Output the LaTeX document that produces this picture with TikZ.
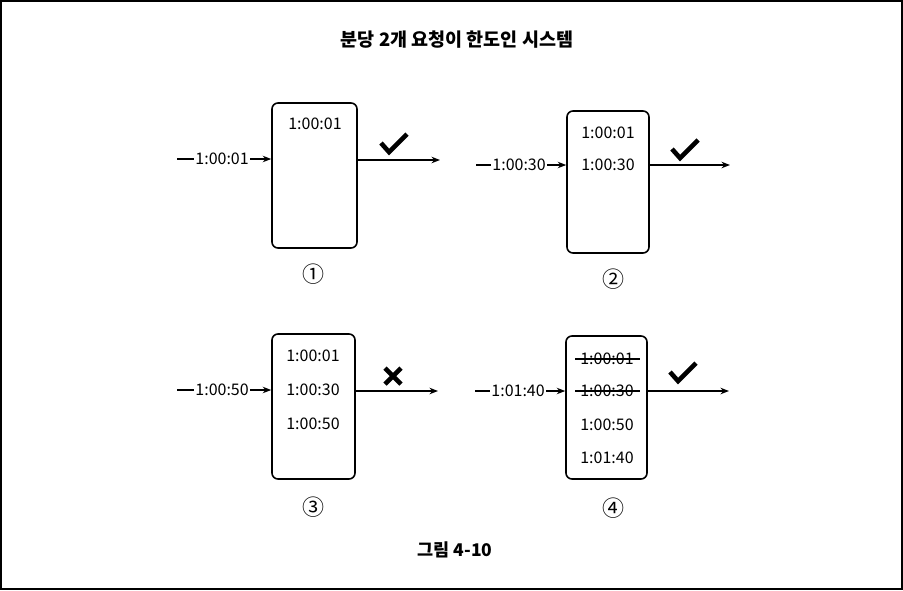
\documentclass[tikz,border=0pt]{standalone}
\usepackage{fontspec}
\setmainfont{Noto Sans CJK KR}
\usetikzlibrary{arrows.meta}
\begin{document}
\begin{tikzpicture}[x=1pt,y=-1pt,
  qbox/.style={draw, line width=1.6pt, rounded corners=6pt, inner sep=0pt},
  tlabel/.style={font=\fontsize{16}{19}\selectfont, inner sep=0pt},
  inlab/.style={font=\fontsize{16}{19}\selectfont, fill=white, inner xsep=1.5pt, inner ysep=1pt},
  flow/.style={line width=1.3pt, -{Stealth[length=8.5pt,width=6.5pt]}},
  okmark/.style={line width=4.6pt, line join=miter, line cap=butt},
  nomark/.style={line width=4.6pt, line cap=butt},
  numlab/.style={font=\fontsize{22}{24}\selectfont, inner sep=0pt},
  strike/.style={line width=1.8pt}
]
\useasboundingbox (0,0) rectangle (903,590);
\draw[line width=2.5pt] (1,1) rectangle (902,589);

% title and caption
\node[font=\bfseries\fontsize{18.5}{22}\selectfont] (title) at (457,40) {분당 2개 요청이 한도인 시스템};
\node[font=\bfseries\fontsize{17.5}{21}\selectfont] (caption) at (455,550) {그림 4-10};

% boxes
\node[qbox, minimum width=85pt, minimum height=145pt] (b1) at (314.5,175.5) {};
\node[qbox, minimum width=82pt, minimum height=142pt] (b2) at (608,182) {};
\node[qbox, minimum width=83pt, minimum height=145pt] (b3) at (313.5,406.5) {};
\node[qbox, minimum width=81pt, minimum height=143pt] (b4) at (606.5,407.5) {};

% box contents
\node[tlabel] (t11) at (315,124) {1:00:01};
\node[tlabel] (t21) at (608,133) {1:00:01};
\node[tlabel] (t22) at (608,165) {1:00:30};
\node[tlabel] (t31) at (313,356) {1:00:01};
\node[tlabel] (t32) at (313,390) {1:00:30};
\node[tlabel] (t33) at (313,424) {1:00:50};
\node[tlabel] (t41) at (607,359) {1:00:01};
\node[tlabel] (t42) at (607,391) {1:00:30};
\node[tlabel] (t43) at (607,425) {1:00:50};
\node[tlabel] (t44) at (607,458) {1:01:40};
\draw[strike] ([xshift=-5pt]t41.west) -- ([xshift=6pt]t41.east);
\draw[strike] ([xshift=-5pt]t42.west) -- ([xshift=6pt]t42.east);

% incoming requests
\coordinate (s1) at (177,159);
\coordinate (s2) at (476,165);
\coordinate (s3) at (177,390);
\coordinate (s4) at (475,391);
\draw[flow] (s1) -- node[inlab, xshift=-2pt] (l1) {1:00:01} (b1.west |- s1);
\draw[flow] (s2) -- node[inlab, xshift=-2pt] (l2) {1:00:30} (b2.west |- s2);
\draw[flow] (s3) -- node[inlab, xshift=-2pt] (l3) {1:00:50} (b3.west |- s3);
\draw[flow] (s4) -- node[inlab, xshift=-2pt] (l4) {1:01:40} (b4.west |- s4);

% outgoing
\coordinate (e1) at (440,160);
\coordinate (e2) at (730,165);
\coordinate (e3) at (438,391);
\coordinate (e4) at (729,391);
\draw[flow] (b1.east |- e1) -- (e1);
\draw[flow] (b2.east |- e2) -- (e2);
\draw[flow] (b3.east |- e3) -- (e3);
\draw[flow] (b4.east |- e4) -- (e4);

% marks
\coordinate (m1) at (394,144);
\coordinate (m2) at (685,150);
\coordinate (m3) at (393,376);
\coordinate (m4) at (683,373);
\foreach \m in {m1,m2,m4}
  \draw[okmark] ([shift={(-13,-1)}]\m) -- ([shift={(-5,8)}]\m) -- ([shift={(13,-10)}]\m);
\draw[nomark] ([shift={(-8,-8)}]m3) -- ([shift={(8,8)}]m3)
              ([shift={(-8,8)}]m3) -- ([shift={(8,-8)}]m3);

% step numbers
\node[numlab] (n1) at (313,274) {①};
\node[numlab] (n2) at (613,279) {②};
\node[numlab] (n3) at (313,507) {③};
\node[numlab] (n4) at (613,508) {④};
\end{tikzpicture}
\end{document}
